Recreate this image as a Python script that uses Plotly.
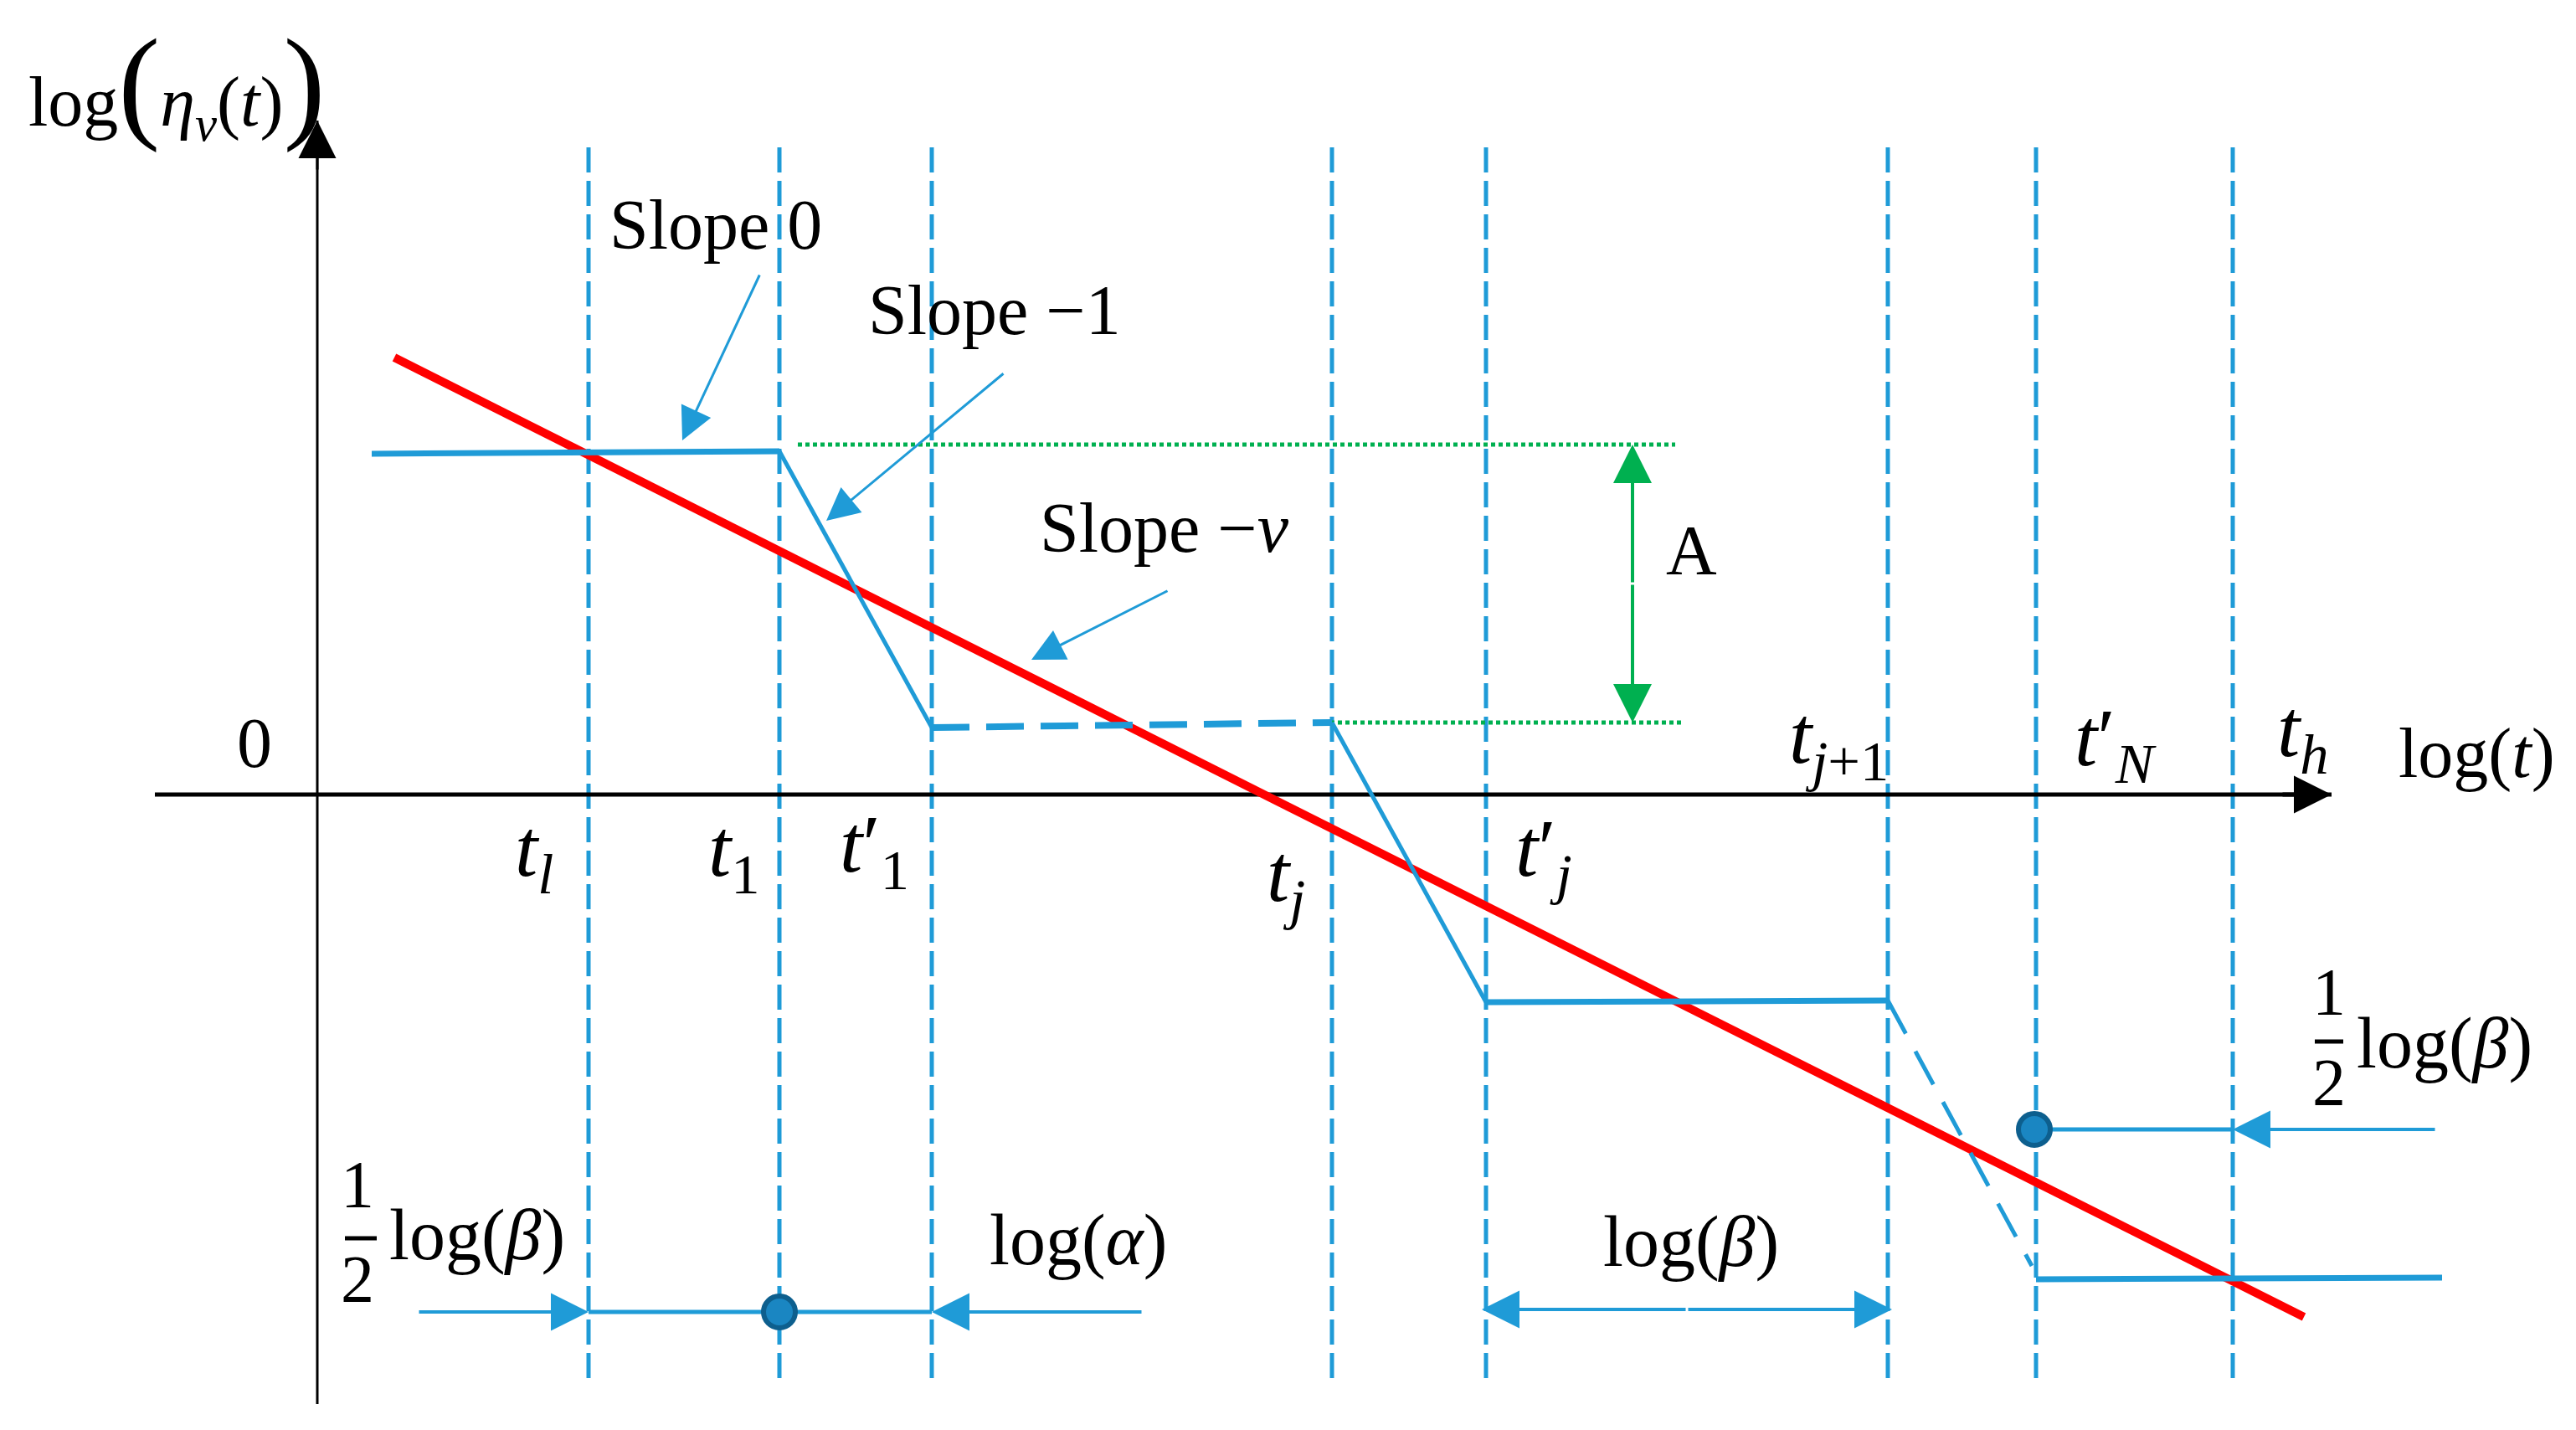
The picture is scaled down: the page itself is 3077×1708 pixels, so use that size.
import plotly.graph_objects as go

BLUE = "#1f9bd7"
DOT = "#1a86c2"
DOT_EDGE = "#0d5f8e"
RED = "#ff0000"
GREEN = "#00b050"
SERIF = "Liberation Serif"

# vertical guides on the log(t) axis
grid_x = [3.24, 5.52, 7.34, 12.12, 13.96, 18.76, 20.53, 22.88]
grid_top = 7.74
grid_bottom = -6.97
tick_labels = [
    "<i>t</i><sub><i>l</i></sub>",
    "<i>t</i><sub>1</sub>",
    "<i>t</i>′<sub>1</sub>",
    "<i>t</i><sub><i>j</i></sub>",
    "<i>t</i>′<sub><i>j</i></sub>",
    "<i>t</i><sub><i>j</i>+1</sub>",
    "<i>t</i>′<sub><i>N</i></sub>",
    "<i>t</i><sub><i>h</i></sub>",
]
tick_label_x = [2.59, 4.98, 6.65, 11.57, 14.65, 18.17, 21.48, 23.72]
tick_label_y = [-0.71, -0.71, -0.66, -1.01, -0.71, 0.64, 0.61, 0.72]

# target power law (red)
target_x = [0.92, 23.73]
target_y = [5.22, -6.24]

# piecewise approximation (blue)
flat_x = [0.65, 5.52, None, 13.96, 18.76, None, 20.53, 25.38]
flat_y = [4.07, 4.10, None, -2.48, -2.46, None, -5.79, -5.77]
drop_x = [5.52, 7.34, None, 12.12, 13.96]
drop_y = [4.10, 0.80, None, 0.86, -2.48]
gap_flat_x = [7.34, 12.12]
gap_flat_y = [0.80, 0.86]
gap_drop_x = [18.76, 20.48]
gap_drop_y = [-2.46, -5.63]

# amplitude A
amp_x = 15.71
amp_top = 4.18
amp_bottom = 0.86
amp_top_span = [5.74, 16.22]
amp_bottom_span = [12.10, 16.33]

# axes
x_axis_span = [-1.94, 24.06]
y_axis_span = [-7.28, 8.05]

# slope pointers: (tail x, tail y, head x, head y)
pointers = [(5.29, 6.22, 4.36, 4.23), (8.21, 5.04, 6.08, 3.27), (10.17, 2.44, 8.53, 1.61)]

# measurement bars
bar_left_y = -6.18
bar_left_span = [3.24, 7.34]
bar_left_dot = 5.52
bar_left_in = [1.20, 3.24]
bar_left_out = [9.86, 7.34]
bar_mid_y = -6.15
bar_mid_span = [13.91, 18.81]
bar_right_y = -4.0
bar_right_dot = 20.51
bar_right_end = 22.88
bar_right_in = [25.31, 22.88]

fig = go.Figure()


def line(xs, ys, color, width, dash=None):
    fig.add_trace(go.Scatter(x=xs, y=ys, mode="lines", hoverinfo="skip",
                             line=dict(color=color, width=width, dash=dash)))


def arrow(x0, y0, x1, y1, color, width, size):
    fig.add_annotation(x=x1, y=y1, ax=x0, ay=y0, xref="x", yref="y", axref="x", ayref="y",
                       text="", showarrow=True, arrowhead=2, arrowsize=size, arrowwidth=width,
                       arrowcolor=color, standoff=0, startstandoff=0)


for gx in grid_x:
    line([gx, gx], [grid_bottom, grid_top], BLUE, 5, "30px,10px")

line(amp_top_span, [amp_top, amp_top], GREEN, 5, "5px,4px")
line(amp_bottom_span, [amp_bottom, amp_bottom], GREEN, 5, "5px,4px")

line(x_axis_span, [0, 0], "black", 5)
line([0, 0], y_axis_span, "black", 3)

line(target_x, target_y, RED, 10)

line(flat_x, flat_y, BLUE, 7)
line(drop_x, drop_y, BLUE, 5)
line(gap_flat_x, gap_flat_y, BLUE, 8, "45px,20px")
line(gap_drop_x, gap_drop_y, BLUE, 5, "45px,24px")

line(bar_left_span, [bar_left_y, bar_left_y], BLUE, 5)
line([bar_right_dot, bar_right_end], [bar_right_y, bar_right_y], BLUE, 5)
fig.add_trace(go.Scatter(x=[bar_left_dot, bar_right_dot], y=[bar_left_y, bar_right_y], mode="markers",
                         hoverinfo="skip",
                         marker=dict(size=38, color=DOT, line=dict(color=DOT_EDGE, width=6))))

# axis arrows
arrow(x_axis_span[1] - 0.6, 0, x_axis_span[1], 0, "black", 5, 1.8)
arrow(0, y_axis_span[1] - 0.6, 0, y_axis_span[1], "black", 3, 3)

# amplitude double arrow
amp_mid = (amp_top + amp_bottom) / 2
arrow(amp_x, amp_mid, amp_x, amp_top, GREEN, 4, 2.3)
arrow(amp_x, amp_mid, amp_x, amp_bottom, GREEN, 4, 2.3)

for tx, ty, hx, hy in pointers:
    arrow(tx, ty, hx, hy, BLUE, 3, 2.6)

# measurement arrows
arrow(bar_left_in[0], bar_left_y, bar_left_in[1], bar_left_y, BLUE, 4, 2.25)
arrow(bar_left_out[0], bar_left_y, bar_left_out[1], bar_left_y, BLUE, 4, 2.25)
bar_mid = (bar_mid_span[0] + bar_mid_span[1]) / 2
arrow(bar_mid, bar_mid_y, bar_mid_span[0], bar_mid_y, BLUE, 4, 2.25)
arrow(bar_mid, bar_mid_y, bar_mid_span[1], bar_mid_y, BLUE, 4, 2.25)
arrow(bar_right_in[0], bar_right_y, bar_right_in[1], bar_right_y, BLUE, 4, 2.25)


def label(x, y, text, size=84):
    fig.add_annotation(x=x, y=y, xref="x", yref="y", text=text, showarrow=False,
                       font=dict(family=SERIF, size=size, color="black"))


for tx, ty, tl in zip(tick_label_x, tick_label_y, tick_labels):
    label(tx, ty, tl, 98)

label(-1.68, 8.50, 'log<span style="font-size:150px">(</span><i>η</i><sub><i>ν</i></sub>(<i>t</i>)'
                   '<span style="font-size:150px">)</span>', 84)
label(-0.75, 0.62, "0", 84)
label(25.79, 0.49, "log(<i>t</i>)", 84)
label(4.76, 6.81, "Slope 0", 84)
label(8.09, 5.79, "Slope −1", 84)
label(10.12, 3.19, "Slope −<i>ν</i>", 84)
label(16.41, 2.92, "A", 84)

# 1/2 log(beta) left
label(0.48, -4.66, "1", 80)
label(0.48, -5.79, "2", 80)
fig.add_shape(type="line", x0=0.33, x1=0.71, y0=-5.30, y1=-5.30, line=dict(color="black", width=5))
label(1.91, -5.26, "log(<i>β</i>)", 86)
label(9.09, -5.32, "log(<i>α</i>)", 86)
label(16.41, -5.34, "log(<i>β</i>)", 86)
# 1/2 log(beta) right
label(24.03, -2.36, "1", 80)
label(24.03, -3.44, "2", 80)
fig.add_shape(type="line", x0=23.86, x1=24.2, y0=-2.95, y1=-2.95, line=dict(color="black", width=5))
label(25.41, -2.97, "log(<i>β</i>)", 86)

fig.update_layout(
    width=3077, height=1708,
    margin=dict(l=0, r=0, t=0, b=0),
    paper_bgcolor="white", plot_bgcolor="white",
    showlegend=False,
    xaxis=dict(range=[-3.79, 26.98], visible=False),
    yaxis=dict(range=[-7.59, 9.49], visible=False),
)

fig.write_html("out.html", config={"displayModeBar": False},
               post_script="document.body.style.margin = '0';")
